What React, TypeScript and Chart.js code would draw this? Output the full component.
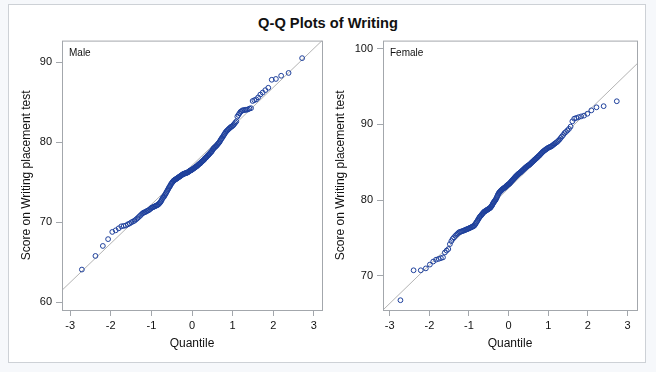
import React, { useEffect, useRef } from 'react';
import { Chart, registerables } from 'chart.js';

Chart.register(...registerables);

// ---------- text ----------
const chartTitle = 'Q-Q Plots of Writing';
const yAxisTitle = 'Score on Writing placement test';
const xAxisTitle = 'Quantile';
const maleLabel = 'Male';
const femaleLabel = 'Female';

// ---------- ticks ----------
const xTicks = [-3, -2, -1, 0, 1, 2, 3];
const maleYTicks = [60, 70, 80, 90];
const femaleYTicks = [70, 80, 90, 100];

// ---------- axis ranges ----------
const maleXRange = [-3.2, 3.2];
const maleYRange = [59.05, 92.69];
const femaleXRange = [-3.17, 3.24];
const femaleYRange = [65.51, 101.05];

// ---------- reference lines (normal, mu / sigma) ----------
const maleMu = 77.1;
const maleSigma = 4.87;
const femaleMu = 81.57;
const femaleSigma = 5.066;

// ---------- sorted scores ----------
const maleScores = [
  64.1, 65.8, 67.05, 67.9, 68.8, 69.0, 69.25, 69.5, 69.55, 69.6, 69.75, 69.85,
  70.0, 70.1, 70.2, 70.35, 70.5, 70.65, 70.8, 70.95,
  71.1, 71.2, 71.25, 71.3, 71.4, 71.45, 71.5, 71.6, 71.7, 71.8,
  71.85, 71.9, 71.95, 72.0, 72.05, 72.1, 72.15, 72.2, 72.3, 72.4, 72.5, 72.65, 72.8,
  73.0, 73.1, 73.2, 73.35, 73.5, 73.65, 73.8, 73.95, 74.1, 74.25, 74.4, 74.5, 74.65, 74.8, 74.9,
  75.0, 75.1, 75.2, 75.25, 75.3, 75.35, 75.4, 75.45, 75.5, 75.55, 75.6, 75.65, 75.7, 75.75, 75.8, 75.85, 75.9,
  75.95, 76.0, 76.05, 76.05, 76.1, 76.1, 76.15, 76.15, 76.2, 76.2, 76.25, 76.3, 76.35, 76.4, 76.45, 76.5, 76.5, 76.55,
  76.6, 76.65, 76.7, 76.75, 76.8, 76.85, 76.9, 76.95, 77.0, 77.05, 77.1, 77.2, 77.25, 77.3, 77.35, 77.4, 77.5, 77.55, 77.6,
  77.7, 77.75, 77.8, 77.9, 78.0, 78.05, 78.1, 78.2, 78.3, 78.35, 78.45, 78.5, 78.6, 78.7, 78.75, 78.85, 78.95,
  79.1, 79.2, 79.3, 79.35, 79.45, 79.5, 79.6, 79.7, 79.8, 79.9, 80.0, 80.15, 80.3, 80.45, 80.55,
  80.7, 80.85, 81.0, 81.15, 81.3, 81.4, 81.5, 81.6, 81.7, 81.8, 81.9, 81.95, 82.05,
  82.15, 82.3, 82.45, 82.6, 83.2, 83.4, 83.6, 83.8, 83.9, 84.0, 84.0, 84.05, 84.05, 84.1, 84.2, 84.25,
  85.15, 85.25, 85.35, 85.6, 85.95, 86.2, 86.5, 86.8, 87.8, 87.9, 88.3, 88.65, 90.5,
];

const femaleScores = [
  66.8, 70.75, 70.75, 71.0, 71.5, 71.9, 72.15, 72.25, 72.35, 72.45, 73.1, 73.35, 73.55, 74.2, 74.6, 74.9, 75.1, 75.3, 75.45, 75.6, 75.75,
  75.8, 75.85, 75.9, 75.95, 76.0, 76.05, 76.1, 76.15, 76.2, 76.25,
  76.3, 76.35, 76.4, 76.45, 76.5, 76.55, 76.6, 76.7, 76.85, 77.0, 77.15, 77.3, 77.45, 77.6,
  77.75, 77.85, 77.95, 78.05, 78.15, 78.25, 78.35, 78.45, 78.5, 78.55, 78.6, 78.65, 78.7, 78.75, 78.8, 78.85,
  78.9, 78.95, 79.0, 79.1, 79.2, 79.3, 79.45, 79.6, 79.7, 79.8, 79.9, 80.0, 80.1, 80.25, 80.4, 80.55, 80.7, 80.85,
  80.95, 81.05, 81.1, 81.2, 81.25, 81.3, 81.4, 81.45, 81.5, 81.55, 81.6, 81.65, 81.7, 81.75, 81.8, 81.9, 81.95, 82.0, 82.05, 82.1,
  82.15, 82.2, 82.3, 82.35, 82.45, 82.5, 82.6, 82.65, 82.75, 82.8, 82.9, 82.95, 83.05, 83.1, 83.2, 83.25, 83.3, 83.4, 83.45,
  83.5, 83.55, 83.6, 83.65, 83.7, 83.8, 83.85, 83.9, 84.0, 84.05, 84.1, 84.2, 84.25, 84.3, 84.4, 84.45, 84.5, 84.55,
  84.6, 84.65, 84.7, 84.8, 84.85, 84.95, 85.0, 85.1, 85.15, 85.25, 85.3, 85.4, 85.45, 85.55, 85.6, 85.7,
  85.8, 85.85, 85.95, 86.05, 86.15, 86.25, 86.35, 86.45, 86.5, 86.6, 86.65, 86.75, 86.8, 86.9,
  86.95, 87.0, 87.05, 87.1, 87.2, 87.3, 87.4, 87.5, 87.6, 87.7, 87.85, 88.0, 88.2, 88.4, 88.6, 88.85, 89.0, 89.2, 89.4, 89.7,
  90.4, 90.75, 90.85, 90.95, 91.05, 91.15, 91.4, 91.85, 92.25, 92.4, 93.05,
];

// ---------- styling ----------
const FONT = '"Liberation Sans", Arial, Helvetica, sans-serif';
const MARKER = '#1d3f9b';
const FRAME = '#a3a7ac';
const REFLINE = '#b3b3b3';
const TEXT = '#111111';

// inverse standard normal CDF (Acklam)
function invNorm(p: number): number {
  const a = [-3.969683028665376e1, 2.209460984245205e2, -2.759285104469687e2, 1.38357751867269e2, -3.066479806614716e1, 2.506628277459239];
  const b = [-5.447609879822406e1, 1.615858368580409e2, -1.556989798598866e2, 6.680131188771972e1, -1.328068155288572e1];
  const c = [-7.784894002430293e-3, -3.223964580411365e-1, -2.400758277161838, -2.549732539343734, 4.374664141464968, 2.938163982698783];
  const d = [7.784695709041462e-3, 3.224671290700398e-1, 2.445134137142996, 3.754408661907416];
  const pl = 0.02425;
  if (p < pl) {
    const q = Math.sqrt(-2 * Math.log(p));
    return (((((c[0] * q + c[1]) * q + c[2]) * q + c[3]) * q + c[4]) * q + c[5]) / ((((d[0] * q + d[1]) * q + d[2]) * q + d[3]) * q + 1);
  }
  if (p <= 1 - pl) {
    const q = p - 0.5;
    const r = q * q;
    return ((((((a[0] * r + a[1]) * r + a[2]) * r + a[3]) * r + a[4]) * r + a[5]) * q) / (((((b[0] * r + b[1]) * r + b[2]) * r + b[3]) * r + b[4]) * r + 1);
  }
  const q = Math.sqrt(-2 * Math.log(1 - p));
  return -(((((c[0] * q + c[1]) * q + c[2]) * q + c[3]) * q + c[4]) * q + c[5]) / ((((d[0] * q + d[1]) * q + d[2]) * q + d[3]) * q + 1);
}

// Blom normal scores for the sorted sample
function qqPoints(scores: number[]) {
  const n = scores.length;
  return scores.map((v, i) => ({ x: invNorm((i + 1 - 0.375) / (n + 0.25)), y: v }));
}

type PanelProps = {
  scores: number[];
  mu: number;
  sigma: number;
  xRange: number[];
  yRange: number[];
  yTicks: number[];
  label: string;
  left: number;
  top: number;
  width: number;
  height: number;
  yAxisWidth: number;
  yTitlePad: number;
};

function QQPanel(props: PanelProps) {
  const ref = useRef<HTMLCanvasElement | null>(null);
  useEffect(() => {
    const canvas = ref.current;
    if (!canvas) return;
    const { scores, mu, sigma, xRange, yRange, yTicks, label, yAxisWidth, yTitlePad } = props;

    const framePlugin = {
      id: 'frame',
      afterDraw(chart: any) {
        const { ctx, chartArea } = chart;
        ctx.save();
        ctx.strokeStyle = FRAME;
        ctx.lineWidth = 1;
        ctx.strokeRect(chartArea.left + 0.5, chartArea.top + 0.5, chartArea.right - chartArea.left, chartArea.bottom - chartArea.top);
        ctx.fillStyle = TEXT;
        ctx.font = `10px ${FONT}`;
        ctx.textBaseline = 'alphabetic';
        ctx.textAlign = 'left';
        ctx.fillText(label, chartArea.left + 7, chartArea.top + 15);
        ctx.restore();
      },
    };

    const chart = new Chart(canvas, {
      type: 'scatter',
      data: {
        datasets: [
          {
            data: qqPoints(scores),
            pointStyle: 'circle',
            pointRadius: 2.4,
            pointBorderWidth: 1,
            pointBorderColor: MARKER,
            pointBackgroundColor: 'rgba(0,0,0,0)',
            showLine: false,
          } as any,
          {
            data: [
              { x: xRange[0], y: mu + sigma * xRange[0] },
              { x: xRange[1], y: mu + sigma * xRange[1] },
            ],
            showLine: true,
            borderColor: REFLINE,
            borderWidth: 1,
            pointRadius: 0,
            fill: false,
          } as any,
        ],
      },
      options: {
        responsive: false,
        animation: false,
        events: [],
        layout: { padding: { left: 0, top: 8, right: 5, bottom: 0 } },
        plugins: { legend: { display: false }, tooltip: { enabled: false }, title: { display: false } },
        scales: {
          x: {
            type: 'linear',
            min: xRange[0],
            max: xRange[1],
            afterBuildTicks: (s: any) => {
              s.ticks = xTicks.map((v) => ({ value: v }));
            },
            afterFit: (s: any) => {
              s.height = 50;
            },
            grid: { drawOnChartArea: false, drawTicks: true, tickLength: 6, color: FRAME },
            border: { display: false },
            ticks: { color: TEXT, font: { family: FONT, size: 11 }, padding: 3.5, maxRotation: 0, autoSkip: false },
            title: { display: true, text: xAxisTitle, color: TEXT, font: { family: FONT, size: 12 }, padding: { top: 0, bottom: 9.2 } },
          },
          y: {
            type: 'linear',
            min: yRange[0],
            max: yRange[1],
            afterBuildTicks: (s: any) => {
              s.ticks = yTicks.map((v) => ({ value: v }));
            },
            afterFit: (s: any) => {
              s.width = yAxisWidth;
            },
            grid: { drawOnChartArea: false, drawTicks: true, tickLength: 6, color: FRAME },
            border: { display: false },
            ticks: { color: TEXT, font: { family: FONT, size: 11 }, padding: 4, autoSkip: false },
            title: { display: true, text: yAxisTitle, color: TEXT, font: { family: FONT, size: 12 }, padding: { top: yTitlePad, bottom: 0 } },
          },
        },
      } as any,
      plugins: [framePlugin],
    });
    return () => chart.destroy();
  }, []);

  return (
    <canvas
      ref={ref}
      width={props.width}
      height={props.height}
      style={{ position: 'absolute', left: props.left, top: props.top, width: props.width, height: props.height }}
    />
  );
}

export default function App() {
  return (
    <div style={{ position: 'fixed', left: 0, top: 0, width: 656, height: 372, background: '#f6f8fb', overflow: 'hidden' }}>
      <div
        style={{
          position: 'absolute',
          left: 8,
          top: 4,
          width: 638,
          height: 359,
          boxSizing: 'border-box',
          border: '1px solid #cdd1d6',
          background: '#ffffff',
        }}
      />
      <div
        style={{
          position: 'absolute',
          left: 0,
          top: 15.5,
          width: 656,
          textAlign: 'center',
          fontFamily: FONT,
          fontWeight: 'bold',
          fontSize: '14.67px',
          lineHeight: '14.67px',
          color: TEXT,
          whiteSpace: 'nowrap',
        }}
      >
        {chartTitle}
      </div>
      <QQPanel
        scores={maleScores}
        mu={maleMu}
        sigma={maleSigma}
        xRange={maleXRange}
        yRange={maleYRange}
        yTicks={maleYTicks}
        label={maleLabel}
        left={9}
        top={30}
        width={318}
        height={330}
        yAxisWidth={53}
        yTitlePad={10.8}
      />
      <QQPanel
        scores={femaleScores}
        mu={femaleMu}
        sigma={femaleSigma}
        xRange={femaleXRange}
        yRange={femaleYRange}
        yTicks={femaleYTicks}
        label={femaleLabel}
        left={330}
        top={30}
        width={312}
        height={330}
        yAxisWidth={53}
        yTitlePad={3.8}
      />
    </div>
  );
}
